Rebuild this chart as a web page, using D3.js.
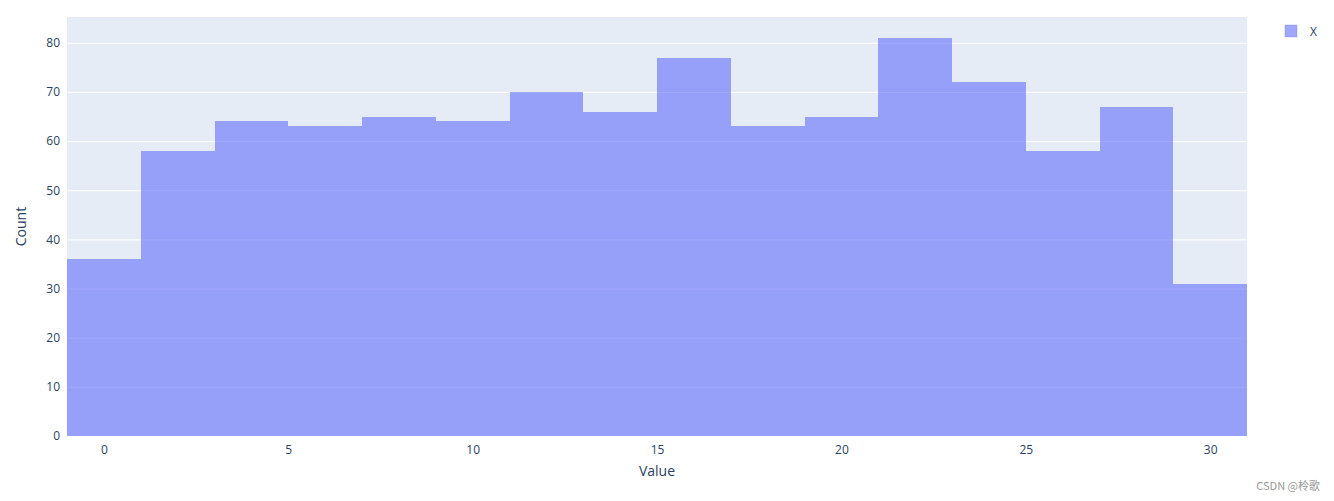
<!DOCTYPE html>
<html><head><meta charset="utf-8">
<script src="https://cdn.jsdelivr.net/npm/d3@7"></script>
<style>body{margin:0;background:#fff;} svg{display:block;}</style>
</head><body>
<script>
const binStarts = [-1,1,3,5,7,9,11,13,15,17,19,21,23,25,27,29];
const binWidth = 2;
const counts = [36,58,64,63,65,64,70,66,77,63,65,81,72,58,67,31];
const xTicks = [0,5,10,15,20,25,30];
const yTicks = [0,10,20,30,40,50,60,70,80];
const seriesName = "X";

const W = 1334, H = 501;
const m = {l:67, t:17, r:1334-1247, b:501-436};
const svg = d3.select("body").append("svg").attr("width",W).attr("height",H);
const font = "'Open Sans', 'Liberation Sans', sans-serif";
const x = d3.scaleLinear().domain([-1,31]).range([m.l, W-m.r]);
const y = d3.scaleLinear().domain([0, 81*1.0526]).range([H-m.b, m.t]);

svg.append("rect").attr("x",m.l).attr("y",m.t).attr("width",W-m.l-m.r).attr("height",H-m.t-m.b).attr("fill","#e5ecf6");

const gy = svg.append("g").attr("transform",`translate(${m.l},0)`)
  .call(d3.axisLeft(y).tickValues(yTicks).tickSize(-(W-m.l-m.r)).tickPadding(6));
gy.select(".domain").remove();
gy.selectAll(".tick line").attr("stroke","#fff").attr("stroke-width",1);
gy.selectAll(".tick text").attr("fill","#2a3f5f").style("font-family",font).style("font-size","12px").attr("dx","-1");

svg.append("g").attr("shape-rendering","crispEdges").selectAll("rect").data(counts).join("rect")
  .attr("x",(d,i)=>Math.round(x(binStarts[i])))
  .attr("width",(d,i)=>Math.round(x(binStarts[i]+binWidth))-Math.round(x(binStarts[i])))
  .attr("y",d=>Math.round(y(d))).attr("height",d=>Math.round(y(0))-Math.round(y(d)))
  .attr("fill","#636efa").attr("fill-opacity",0.6);

const gx = svg.append("g").attr("transform",`translate(0,${H-m.b})`)
  .call(d3.axisBottom(x).tickValues(xTicks).tickSize(0).tickPadding(9));
gx.select(".domain").remove();
gx.selectAll(".tick text").attr("fill","#2a3f5f").style("font-family",font).style("font-size","12px");

svg.append("text").attr("x",(m.l+W-m.r)/2).attr("y",476).attr("text-anchor","middle")
  .attr("fill","#2a3f5f").style("font-family",font).style("font-size","14px").text("Value");
svg.append("text").attr("transform",`translate(26,${(m.t+H-m.b)/2}) rotate(-90)`).attr("text-anchor","middle")
  .attr("fill","#2a3f5f").style("font-family",font).style("font-size","14px").text("Count");

const lg = svg.append("g");
lg.append("rect").attr("x",1285).attr("y",25).attr("width",12).attr("height",12)
  .attr("fill","#636efa").attr("fill-opacity",0.6).attr("stroke","#636efa").attr("stroke-opacity",0.3).attr("stroke-width",1);
lg.append("text").attr("x",1310).attr("y",36).attr("fill","#2a3f5f").style("font-family",font).style("font-size","12px").text(seriesName);

svg.append("text").attr("x",1320).attr("y",490).attr("text-anchor","end").attr("fill","#999")
  .style("font-family","'Noto Sans CJK SC', sans-serif").style("font-size","11px").text("CSDN @柃歌");
</script>
</body></html>
